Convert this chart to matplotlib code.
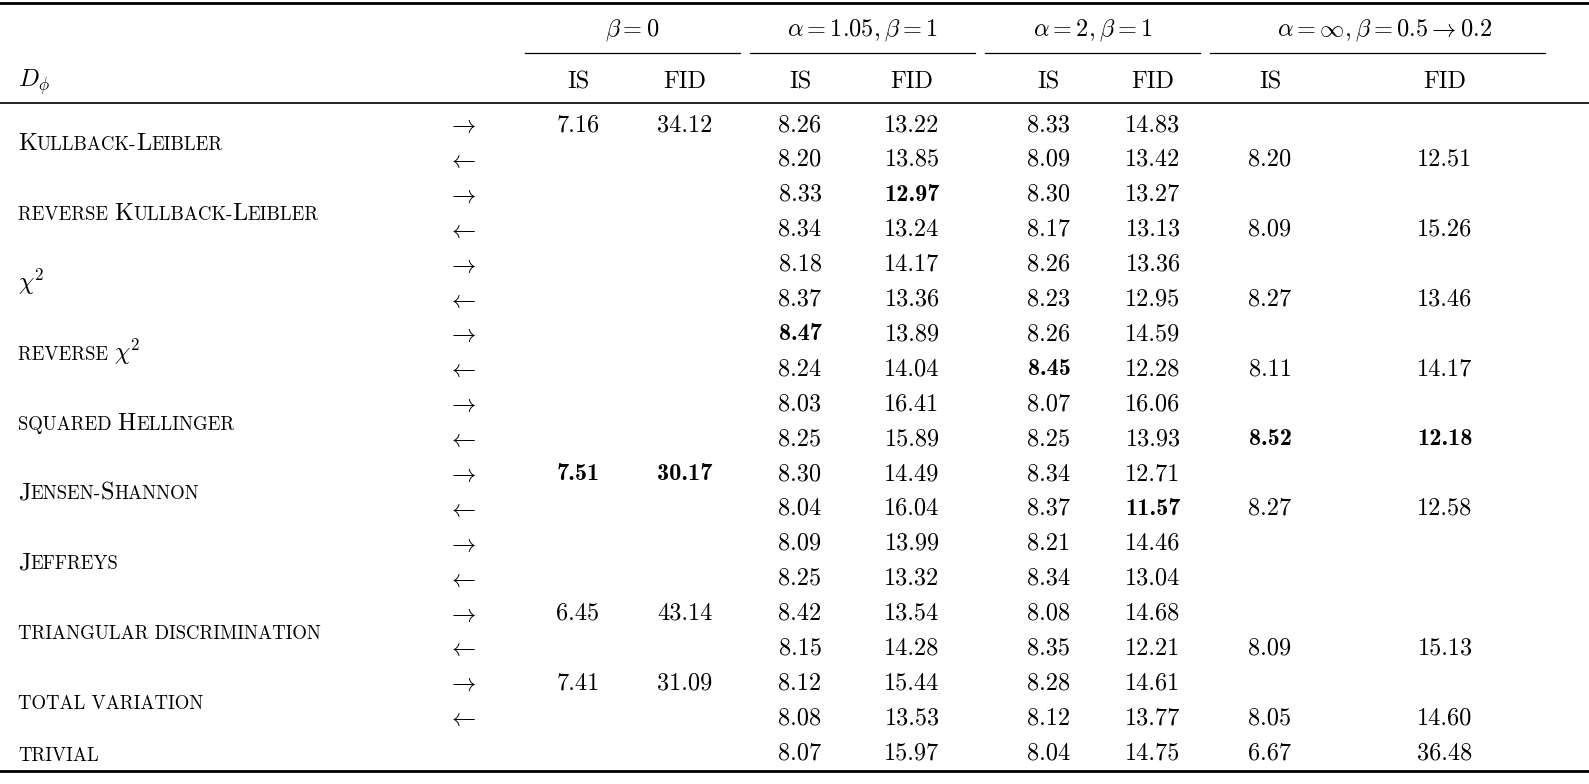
import matplotlib
matplotlib.use("Agg")
import matplotlib.pyplot as plt

plt.rcParams['mathtext.fontset'] = 'cm'
plt.rcParams['axes.unicode_minus'] = False

groups = [r'$\beta = 0$', r'$\alpha = 1.05, \beta = 1$', r'$\alpha = 2, \beta = 1$', r'$\alpha = \infty, \beta = 0.5 \rightarrow 0.2$']
subcols = ['IS', 'FID'] * 4
divergences = [
    [("K", "ULLBACK-"), ("L", "EIBLER")],
    [("", "REVERSE "), ("K", "ULLBACK-"), ("L", "EIBLER")],
    "chi2",
    "rchi2",
    [("", "SQUARED "), ("H", "ELLINGER")],
    [("J", "ENSEN-"), ("S", "HANNON")],
    [("J", "EFFREYS")],
    [("", "TRIANGULAR DISCRIMINATION")],
    [("", "TOTAL VARIATION")],
    [("", "TRIVIAL")],
]
N = None
rows = [
    [7.16, 34.12, 8.26, 13.22, 8.33, 14.83, N, N],
    [N, N, 8.20, 13.85, 8.09, 13.42, 8.20, 12.51],
    [N, N, 8.33, 12.97, 8.30, 13.27, N, N],
    [N, N, 8.34, 13.24, 8.17, 13.13, 8.09, 15.26],
    [N, N, 8.18, 14.17, 8.26, 13.36, N, N],
    [N, N, 8.37, 13.36, 8.23, 12.95, 8.27, 13.46],
    [N, N, 8.47, 13.89, 8.26, 14.59, N, N],
    [N, N, 8.24, 14.04, 8.45, 12.28, 8.11, 14.17],
    [N, N, 8.03, 16.41, 8.07, 16.06, N, N],
    [N, N, 8.25, 15.89, 8.25, 13.93, 8.52, 12.18],
    [7.51, 30.17, 8.30, 14.49, 8.34, 12.71, N, N],
    [N, N, 8.04, 16.04, 8.37, 11.57, 8.27, 12.58],
    [N, N, 8.09, 13.99, 8.21, 14.46, N, N],
    [N, N, 8.25, 13.32, 8.34, 13.04, N, N],
    [6.45, 43.14, 8.42, 13.54, 8.08, 14.68, N, N],
    [N, N, 8.15, 14.28, 8.35, 12.21, 8.09, 15.13],
    [7.41, 31.09, 8.12, 15.44, 8.28, 14.61, N, N],
    [N, N, 8.08, 13.53, 8.12, 13.77, 8.05, 14.60],
    [N, N, 8.07, 15.97, 8.04, 14.75, 6.67, 36.48],
]
bold = {(2, 3), (6, 2), (7, 4), (9, 6), (9, 7), (10, 0), (10, 1), (11, 5)}

W, H = 1589, 784
fig = plt.figure(figsize=(W/100, H/100), dpi=100)
ax = fig.add_axes([0, 0, 1, 1])
ax.set_xlim(0, W); ax.set_ylim(H, 0); ax.axis('off')

FS = 17.5
SC = 13.5
col_x = [578, 685, 800, 912, 1049, 1153, 1270, 1445]
grp_x = [632, 862, 1093, 1385]
grp_span = [(525, 740), (750, 975), (985, 1200), (1210, 1545)]

ax.plot([0, W], [3, 3], color='black', lw=2.0)
ax.plot([0, W], [103, 103], color='black', lw=1.2)
ax.plot([0, W], [771, 771], color='black', lw=2.0)
for (a, b) in grp_span:
    ax.plot([a, b], [53, 53], color='black', lw=0.9)
for g, x in zip(groups, grp_x):
    ax.text(x, 30, g, fontsize=FS, ha='center', va='center')
for s, x in zip(subcols, col_x):
    ax.text(x, 82, s, fontsize=FS, ha='center', va='center', family='cmr10')
ax.text(18, 82, r'$D_\phi$', fontsize=FS, ha='left', va='center')

y0, dy = 125, 34.9
fig.canvas.draw()
r = fig.canvas.get_renderer()
inv = ax.transData.inverted()

def put(x, y, s, fs, **kw):
    t = ax.text(x, y, s, fontsize=fs, ha='left', va='baseline', **kw)
    bb = t.get_window_extent(r)
    return inv.transform((bb.x1, 0))[0]

for i, d in enumerate(divergences):
    ri = 2 * i
    if d == [("", "TRIVIAL")]:
        yc = y0 + ri * dy
    else:
        yc = y0 + (ri + 0.5) * dy
    base = yc + 8
    x = 18
    if d == "chi2":
        ax.text(x, yc, r'$\chi^2$', fontsize=FS, ha='left', va='center')
    elif d == "rchi2":
        x = put(x, base, "REVERSE ", SC, family='cmr10')
        ax.text(x, yc, r'$\chi^2$', fontsize=FS, ha='left', va='center')
    else:
        for big, small in d:
            if big:
                x = put(x, base, big, FS, family='cmr10')
            x = put(x, base, small, SC, family='cmr10')

for ri, row in enumerate(rows):
    y = y0 + ri * dy
    if ri < 18:
        ax.text(462, y, r'$\rightarrow$' if ri % 2 == 0 else r'$\leftarrow$', fontsize=FS, ha='center', va='center')
    for ci, v in enumerate(row):
        if v is None:
            continue
        b = (ri, ci) in bold
        ax.text(col_x[ci], y, f"{v:.2f}", fontsize=FS, ha='center', va='center',
                family='cmb10' if b else 'cmr10')

fig.savefig('out.png', dpi=100)
